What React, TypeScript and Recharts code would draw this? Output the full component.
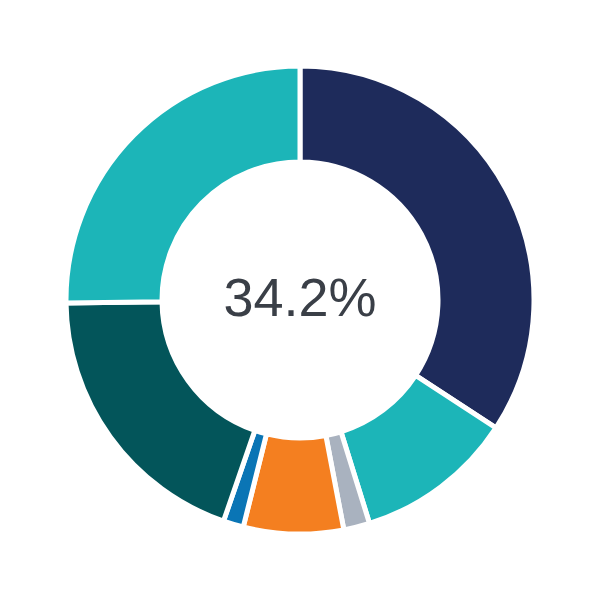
import { PieChart, Pie, Cell } from "recharts"

const segments = ["A", "B", "C", "D", "E", "F", "G"]
const shares = [34.2, 11.0, 1.8, 6.9, 1.4, 19.5, 25.2]
const colors = ["#1e2b5b", "#1cb5b8", "#a9b2bf", "#f47f20", "#0a75b5", "#03555a", "#1cb5b8"]
const centerLabel = "34.2%"

const data = segments.map((name, i) => ({ name, value: shares[i] }))

export default function App() {
  return (
    <div style={{ position: "absolute", left: 0, top: 0, width: 600, height: 600, background: "#fff" }}>
      <PieChart width={600} height={600} margin={{ top: 0, right: 0, bottom: 0, left: 0 }}>
        <Pie
          data={data}
          dataKey="value"
          cx={300}
          cy={300}
          innerRadius={138}
          outerRadius={234}
          startAngle={90}
          endAngle={-270}
          stroke="#fff"
          strokeWidth={5}
          isAnimationActive={false}
        >
          {data.map((d, i) => (
            <Cell key={d.name} fill={colors[i]} />
          ))}
        </Pie>
        <text
          x={300}
          y={297}
          textAnchor="middle"
          dominantBaseline="central"
          fontFamily="Liberation Sans, Arial, sans-serif"
          fontSize={54}
          fill="#3a3f47"
        >
          {centerLabel}
        </text>
      </PieChart>
    </div>
  )
}
